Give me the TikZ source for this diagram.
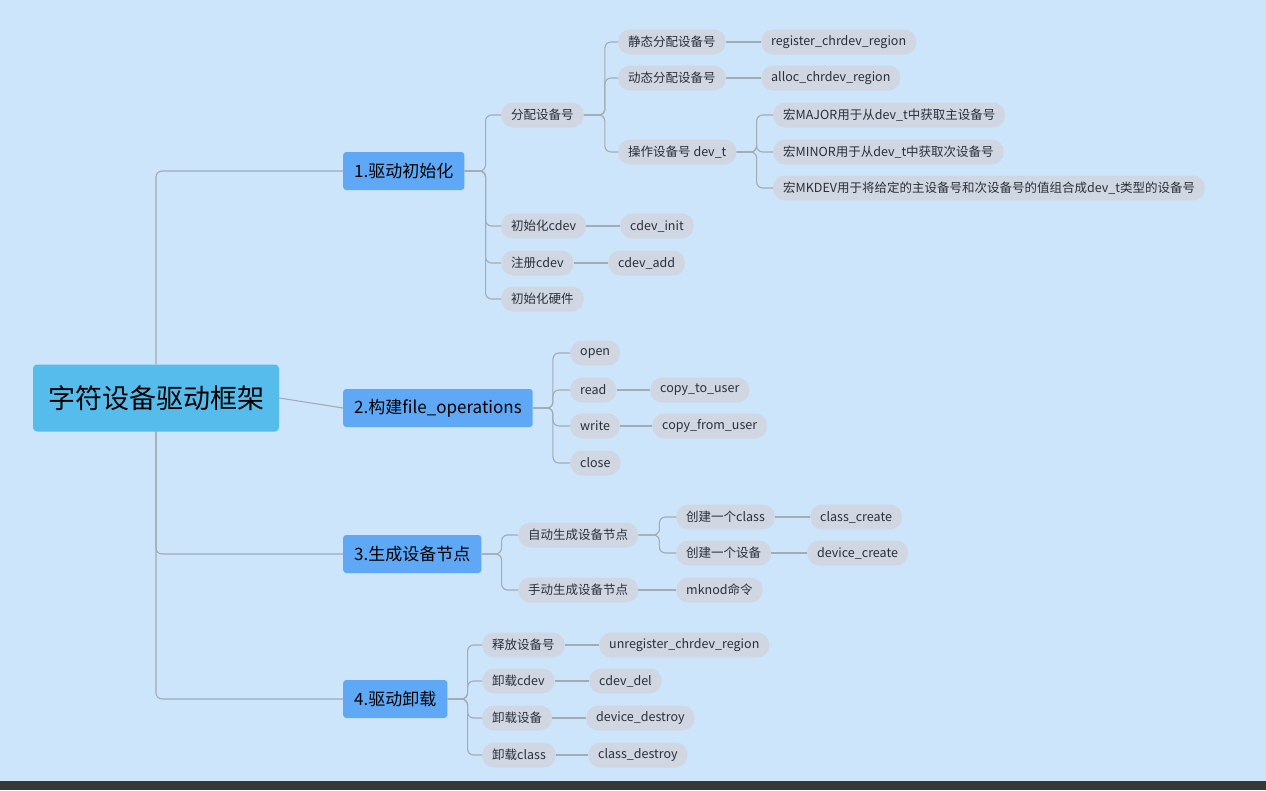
\documentclass[tikz,border=0pt]{standalone}
\usepackage{fontspec}
\setmainfont{Noto Sans CJK SC}
\definecolor{bg}{HTML}{CCE5FB}
\definecolor{rootc}{HTML}{56BCEB}
\definecolor{mainc}{HTML}{5FA8F5}
\definecolor{leafc}{HTML}{D0D7E3}
\definecolor{linec}{HTML}{A3ABB3}
\definecolor{txt}{HTML}{2A2F38}
\tikzset{
 leaf/.style={anchor=west,fill=leafc,rounded corners=12pt,minimum height=25pt,inner xsep=10pt,inner ysep=0pt,font=\fontsize{12.5}{14}\selectfont,text=txt},
 mainn/.style={fill=mainc,rounded corners=3pt,minimum height=38pt,inner xsep=11pt,font=\fontsize{17}{20}\selectfont,text=black},
 conn/.style={draw=linec,line width=1.1pt,rounded corners=6pt}
}
\newcommand\fork[3]{\foreach \c in {#3}{\draw[conn] (#1.east) -- ([xshift=#2]#1.east) |- (\c.west);}}
\begin{document}
\begin{tikzpicture}[x=1pt,y=-1pt]
\fill[bg] (0,0) rectangle (1266,790);
\useasboundingbox (0,0) rectangle (1266,790);
\fill[black!78] (0,781) rectangle (1266,790);
\node[fill=rootc,rounded corners=4pt,minimum width=246pt,minimum height=67pt,font=\fontsize{27}{30}\selectfont] (root) at (156,398) {字符设备驱动框架};
\node[mainn,anchor=west] (a) at (343,171) {1.驱动初始化};
\node[mainn,anchor=west] (b) at (343,408) {2.构建file\_operations};
\node[mainn,anchor=west] (c) at (343,554) {3.生成设备节点};
\node[mainn,anchor=west] (d) at (343,699) {4.驱动卸载};
\draw[conn] (root.north) |- (a.west);
\draw[conn] (root.south) |- (c.west);
\draw[conn] (root.south) |- (d.west);
\draw[conn] (root.east) -- (b.west);
% group 1
\node[leaf] (a1) at (501,115) {分配设备号};
\node[leaf] (a2) at (501,226) {初始化cdev};
\node[leaf] (a3) at (501,263) {注册cdev};
\node[leaf] (a4) at (501,299) {初始化硬件};
\fork{a}{21pt}{a1,a2,a3,a4}
\node[leaf] (a11) at (618,42) {静态分配设备号};
\node[leaf] (a12) at (618,78) {动态分配设备号};
\node[leaf] (a13) at (618,152) {操作设备号 dev\_t};
\fork{a1}{21pt}{a11,a12,a13}
\node[leaf] (a111) at (761,42) {register\_chrdev\_region};
\node[leaf] (a121) at (761,78) {alloc\_chrdev\_region};
\draw[conn] (a11) -- (a111); \draw[conn] (a12) -- (a121);
\node[leaf] (m1) at (773,115) {宏MAJOR用于从dev\_t中获取主设备号};
\node[leaf] (m2) at (773,152) {宏MINOR用于从dev\_t中获取次设备号};
\node[leaf] (m3) at (773,188) {宏MKDEV用于将给定的主设备号和次设备号的值组合成dev\_t类型的设备号};
\fork{a13}{20pt}{m1,m2,m3}
\node[leaf] (a21) at (620,226) {cdev\_init};
\node[leaf] (a31) at (608,263) {cdev\_add};
\draw[conn] (a2) -- (a21); \draw[conn] (a3) -- (a31);
% group 2
\node[leaf] (b1) at (570,353) {open};
\node[leaf] (b2) at (570,390) {read};
\node[leaf] (b3) at (570,426) {write};
\node[leaf] (b4) at (570,463) {close};
\fork{b}{20pt}{b1,b2,b3,b4}
\node[leaf] (b21) at (650,390) {copy\_to\_user};
\node[leaf] (b31) at (652,426) {copy\_from\_user};
\draw[conn] (b2) -- (b21); \draw[conn] (b3) -- (b31);
% group 3
\node[leaf] (c1) at (518,535) {自动生成设备节点};
\node[leaf] (c2) at (518,590) {手动生成设备节点};
\fork{c}{20pt}{c1,c2}
\node[leaf] (c11) at (676,517) {创建一个class};
\node[leaf] (c12) at (676,553) {创建一个设备};
\fork{c1}{21pt}{c11,c12}
\node[leaf] (c111) at (810,517) {class\_create};
\node[leaf] (c121) at (807,553) {device\_create};
\node[leaf] (c21) at (676,590) {mknod命令};
\draw[conn] (c11) -- (c111); \draw[conn] (c12) -- (c121); \draw[conn] (c2) -- (c21);
% group 4
\node[leaf] (d1) at (482,645) {释放设备号};
\node[leaf] (d2) at (482,681) {卸载cdev};
\node[leaf] (d3) at (482,718) {卸载设备};
\node[leaf] (d4) at (482,755) {卸载class};
\fork{d}{20pt}{d1,d2,d3,d4}
\node[leaf] (d11) at (599,645) {unregister\_chrdev\_region};
\node[leaf] (d21) at (589,681) {cdev\_del};
\node[leaf] (d31) at (586,718) {device\_destroy};
\node[leaf] (d41) at (588,755) {class\_destroy};
\draw[conn] (d1) -- (d11); \draw[conn] (d2) -- (d21); \draw[conn] (d3) -- (d31); \draw[conn] (d4) -- (d41);
\end{tikzpicture}
\end{document}
